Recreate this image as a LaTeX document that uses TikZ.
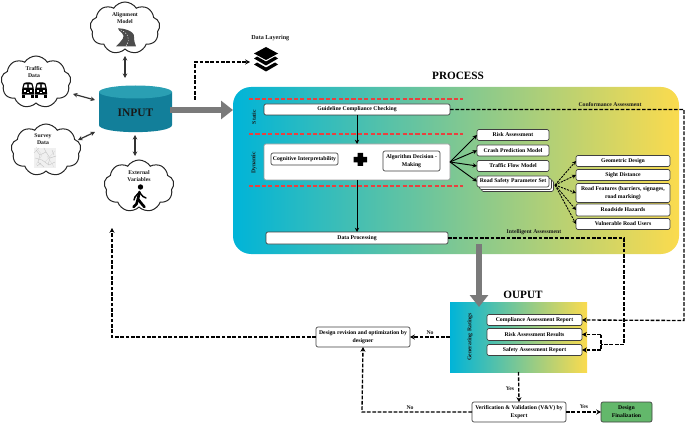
\documentclass[tikz,border=0pt]{standalone}
\usepackage{fontspec}
\setmainfont{Liberation Serif}
\usetikzlibrary{arrows.meta,shapes.symbols,calc}
\definecolor{gblue}{HTML}{00B4D8}
\definecolor{ggreen}{HTML}{6DBB93}
\definecolor{gyellow}{HTML}{FBDB4E}
\definecolor{thick}{HTML}{7A7A7A}
\definecolor{redd}{HTML}{E8413F}
\tikzset{
 sized/.style n args={2}{minimum width=#1*0.75pt,minimum height=#2*0.75pt,inner sep=0pt,outer sep=0pt},
 lab/.style={font=\bfseries\fontsize{4.3}{5.6}\selectfont,align=center,inner sep=0pt,text=black!90},
 whitebox/.style={draw=black!75,fill=white,rounded corners=1.5pt,line width=.5pt,font=\bfseries\fontsize{4.3}{6}\selectfont,align=center},
 cloudy/.style={cloud,cloud puffs=9,cloud puff arc=115,aspect=1.35,draw=black!85,fill=white,line width=.75pt,minimum width=52.5pt,minimum height=39pt,inner sep=0pt},
 dbl/.style={{Stealth[length=3.4pt,width=3.4pt]}-{Stealth[length=3.4pt,width=3.4pt]},line width=.9pt,draw=black!80},
 solidarrow/.style={-{Stealth[length=3.2pt,width=3.2pt]},line width=.7pt,draw=black},
 dashedarrow/.style={-{Stealth[length=3.6pt,width=3.8pt]},line width=1pt,draw=black,dash pattern=on 2.8pt off 1.2pt},
 dashedline/.style={line width=1pt,draw=black,dash pattern=on 2.8pt off 1.2pt},
 fanarrow/.style={-{Stealth[length=3pt,width=3pt]},line width=.65pt,draw=black,dash pattern=on 1.6pt off .8pt},
 reddash/.style={draw=redd,line width=.8pt,dash pattern=on 3.2pt off 1.6pt},
 bigarrow/.style={draw=thick,line width=4.4pt,-{Triangle[length=9pt,width=13.5pt]}},
 carpic/.pic={
  \fill[black] (-6,-2) -- (-4.6,-7) .. controls (-3,-8.5) and (3,-8.5) .. (4.6,-7) -- (6,-2) -- (6.5,5) -- (-6.5,5) -- cycle;
  \fill[white] (-3.5,-6) -- (3.5,-6) -- (4.5,-2.5) -- (-4.5,-2.5) -- cycle;
  \fill[black!80] (-1,-6) rectangle (1,-2.5);
  \fill[white] (-4.5,0) rectangle (-2,1.8);
  \fill[white] (2,0) rectangle (4.5,1.8);
  \fill[white] (-1.5,2.6) rectangle (1.5,3.6);
  \fill[black] (-6.5,5) rectangle (-3.5,8);
  \fill[black] (3.5,5) rectangle (6.5,8);
 }
}
\begin{document}
\begin{tikzpicture}[x=0.75pt,y=-0.75pt]
\useasboundingbox (0,0) rectangle (685,424);
% clouds
\node[cloudy] (cAlign) at (125,28) {};
\node[cloudy] (cTraffic) at (36,82) {};
\node[cloudy] (cSurvey) at (46,150) {};
\node[cloudy] (cExt) at (139,186) {};
\node[lab] (tAlign) at (125,18) {Alignment\\Model};
\node[lab] (tTraffic) at (34,72) {Traffic\\Data};
\node[lab] (tSurvey) at (43,139) {Survey\\Data};
\node[lab] (tExt) at (139,176) {External\\Variables};
% road icon
\fill[black!70] (116,46.5) .. controls (122,40) and (126,37) .. (122,33) .. controls (120,31) and (118,30) .. (118,28.5)
  .. controls (123,28) and (135,31) .. (134,37) .. controls (134,41) and (135,44) .. (136,46.5) -- cycle;
\draw[white,line width=.3pt,dash pattern=on 1pt off 1pt] (126,46) .. controls (131,39) and (128,33) .. (120,29.5);
% cars
\path (28,90) pic[scale=.95] {carpic};
\path (41,90) pic[scale=.95] {carpic};
% survey map
\begin{scope}[draw=black!25,line width=.25pt]
\fill[black!6] (34,148) rectangle (56,168);
\draw (36,150) -- (40,155) -- (38,162) -- (44,167) (40,155) -- (46,152) -- (50,158) -- (56,156);
\draw (35,158) -- (42,160) -- (49,165) -- (55,162) (44,148) -- (46,152) (50,158) -- (48,165);
\draw (37,166) -- (41,163) (52,150) -- (54,155) (34,153) -- (39,148);
\draw[black!15] (36,147) -- (42,155) -- (36,165) (47,156) -- (54,167) (45,162) -- (55,151);
\end{scope}
% walker
\fill[black] (140.5,187) circle[radius=2.7];
\draw[black,line width=2pt,line cap=round,line join=round] (139.5,192) -- (138,199) -- (141,203) -- (144.5,207);
\draw[black,line width=2pt,line cap=round,line join=round] (138,199) -- (136.5,204) -- (133.5,207);
\draw[black,line width=1.1pt,line cap=round,line join=round] (139,192.5) -- (135,197) -- (134,200) (139.5,192.5) -- (143,196.5) -- (146,198);
% cylinder
\fill[color={rgb,255:red,18;green,127;blue,154}] (99,92) -- (99,125) .. controls (99,134.5) and (172,134.5) .. (172,125) -- (172,92) -- cycle;
\fill[color={rgb,255:red,42;green,159;blue,179}] (135.5,92) ellipse[x radius=36.5,y radius=6.5];
\node[font=\bfseries\fontsize{8.6}{10}\selectfont,inner sep=0pt,text=black!90] (input) at (135.5,113) {INPUT};
% data layering
\node[lab,anchor=west,font=\bfseries\fontsize{4.6}{5.6}\selectfont] (tLayer) at (251,38) {Data Layering};
\fill[black] (266,47) -- (278,53.5) -- (266,60) -- (254,53.5) -- cycle;
\fill[black] (257,56.5) -- (266,61.5) -- (275,56.5) -- (278,58.5) -- (266,65.5) -- (254,58.5) -- cycle;
\fill[black] (257,62.5) -- (266,67.5) -- (275,62.5) -- (278,64.5) -- (266,71.5) -- (254,64.5) -- cycle;
\coordinate (layerEnd) at (250,62);
\coordinate (layerBend) at (195,62);
\coordinate (layerStart) at (195,100);
\draw[dashedarrow] (layerStart) -- (layerBend) -- (layerEnd);
% process
\node[font=\bfseries\fontsize{8.4}{10}\selectfont,inner sep=0pt] (tProcess) at (458,76) {PROCESS};
\shade[left color=gblue,middle color=ggreen,right color=gyellow,rounded corners=13.5pt] (233,87) rectangle (679,254);
\coordinate (procWest) at (233,110);
\coordinate (inEast) at (170,110);
\draw[bigarrow] (inEast) -- (procWest);
% input arrows
\coordinate (a1) at (125,56); \coordinate (a2) at (125,78);
\coordinate (b1) at (73,94); \coordinate (b2) at (95,100);
\coordinate (c1) at (78,140); \coordinate (c2) at (95,132);
\coordinate (d1) at (135,135); \coordinate (d2) at (135,156);
\draw[dbl] (a1) -- (a2);
\draw[dbl] (b1) -- (b2);
\draw[dbl] (c1) -- (c2);
\draw[dbl] (d1) -- (d2);
% red lines
\draw[reddash] (249,99) -- (463,99);
\draw[reddash] (249,134) -- (463,134);
\draw[reddash] (249,186) -- (463,186);
\node[lab,rotate=90] (tStatic) at (254,117) {Static};
\node[lab,rotate=90] (tDynamic) at (254,163) {Dynamic};
% process boxes
\node[whitebox,sized={186}{11}] (guide) at (357,109.5) {Guideline Compliance Checking};
\node[whitebox,sized={186}{36},draw=black!40] (dyn) at (357,162) {};
\node[whitebox,sized={67}{12}] (cog) at (304.5,159) {Cognitive Interpretability};
\node[whitebox,sized={57}{20}] (alg) at (411.5,161) {Algorithm Decision -\\Making};
\fill[black] (357.5,153) rectangle (363,166) (353.5,157) rectangle (367,162.5);
\node[whitebox,sized={182}{12}] (proc) at (357,238) {Data Processing};
\draw[solidarrow] (guide.south) -- (dyn.north);
\draw[solidarrow] (dyn.south) -- (proc.north);
% middle boxes
\node[whitebox,sized={72}{11}] (risk) at (513,135) {Risk Assessment};
\node[whitebox,sized={72}{11}] (crash) at (513,150.5) {Crash Prediction Model};
\node[whitebox,sized={72}{11}] (flow) at (513,166) {Traffic Flow Model};
\node[whitebox,sized={72}{11}] (back2) at (517.5,186) {};
\node[whitebox,sized={72}{11}] (back1) at (515.5,184) {};
\node[whitebox,sized={72}{11}] (param) at (513,181.5) {Road Safety Parameter Set};
\foreach \t in {risk,crash,flow,param} \draw[solidarrow] (dyn.east) -- (\t.west);
% right boxes
\node[whitebox,sized={94}{11}] (geo) at (623,161) {Geometric Design};
\node[whitebox,sized={94}{11}] (sight) at (623,175) {Sight Distance};
\node[whitebox,sized={94}{19}] (feat) at (623,193) {Road Features (barriers, signages,\\road marking)};
\node[whitebox,sized={94}{12}] (hazard) at (623,210) {Roadside Hazards};
\node[whitebox,sized={94}{11}] (vru) at (623,224) {Vulnerable Road Users};
\coordinate (fan) at (555,185);
\foreach \t in {geo,sight,feat,hazard,vru} \draw[fanarrow] (fan) -- (\t.west);
% output
\node[font=\bfseries\fontsize{8.4}{10}\selectfont,inner sep=0pt] (tOut) at (523,295) {OUPUT};
\node[sized={137}{70},left color=gblue,middle color=ggreen!80!gyellow,right color=gyellow] (out) at (518.5,337) {};
\node[lab,rotate=90] (tGen) at (470,337) {Generating Ratings};
\node[whitebox,sized={95}{11}] (rCompl) at (534.5,320) {Compliance Assessment Report};
\node[whitebox,sized={95}{12}] (rRisk) at (534.5,334.5) {Risk Assessment Results};
\node[whitebox,sized={95}{11}] (rSafe) at (534.5,350) {Safety Assessment Report};
\coordinate (bigTop) at (479,244);
\coordinate (bigEnd) at (479,307);
\draw[bigarrow] (bigTop) -- (bigEnd);
% conformance
\node[lab] (tConf) at (610,104.5) {Conformance Assessment};
\coordinate (confA) at (684,109.5);
\coordinate (confB) at (684,320.5);
\draw[dashedarrow] (guide.east) -- (confA) -- (confB) -- (rCompl.east);
% intelligent
\node[lab] (tInt) at (534,232.5) {Intelligent Assessment};
\coordinate (intA) at (624,238);
\coordinate (intB) at (624,344.5);
\coordinate (intC) at (601,344.5);
\coordinate (intD) at (601,334.5);
\coordinate (intE) at (601,350);
\draw[dashedline] (proc.east) -- (intA) -- (intB) -- (intC);
\draw[dashedarrow] (intD) -- (rRisk.east);
\draw[dashedarrow] (intE) -- (rSafe.east);
\draw[dashedline] (intD) -- (intE);
% bottom row
\node[whitebox,sized={94}{20}] (rev) at (363,337) {Design revision and optimization by\\designer};
\node[whitebox,sized={94}{20}] (vv) at (519,412) {Verification \& Validation (V\&V) by\\Expert};
\node[whitebox,sized={51}{20},fill={rgb,255:red,99;green,184;blue,107}] (fin) at (626.5,412) {Design\\Finalization};
\draw[dashedarrow] (out.west) -- (rev.east);
\node[lab] (tNo1) at (430,333) {No};
\draw[dashedarrow] (out.south) -- (vv.north);
\node[lab] (tYes1) at (510,389) {Yes};
\draw[dashedarrow] (vv.east) -- (fin.west);
\node[lab] (tYes2) at (584,407) {Yes};
\coordinate (vvBend) at (362,412);
\draw[dashedarrow] (vv.west) -- (vvBend) -- (rev.south);
\node[lab] (tNo2) at (410,408) {No};
\coordinate (revBend) at (112,337);
\coordinate (revEnd) at (112,228);
\draw[dashedarrow] (rev.west) -- (revBend) -- (revEnd);
\end{tikzpicture}
\end{document}
